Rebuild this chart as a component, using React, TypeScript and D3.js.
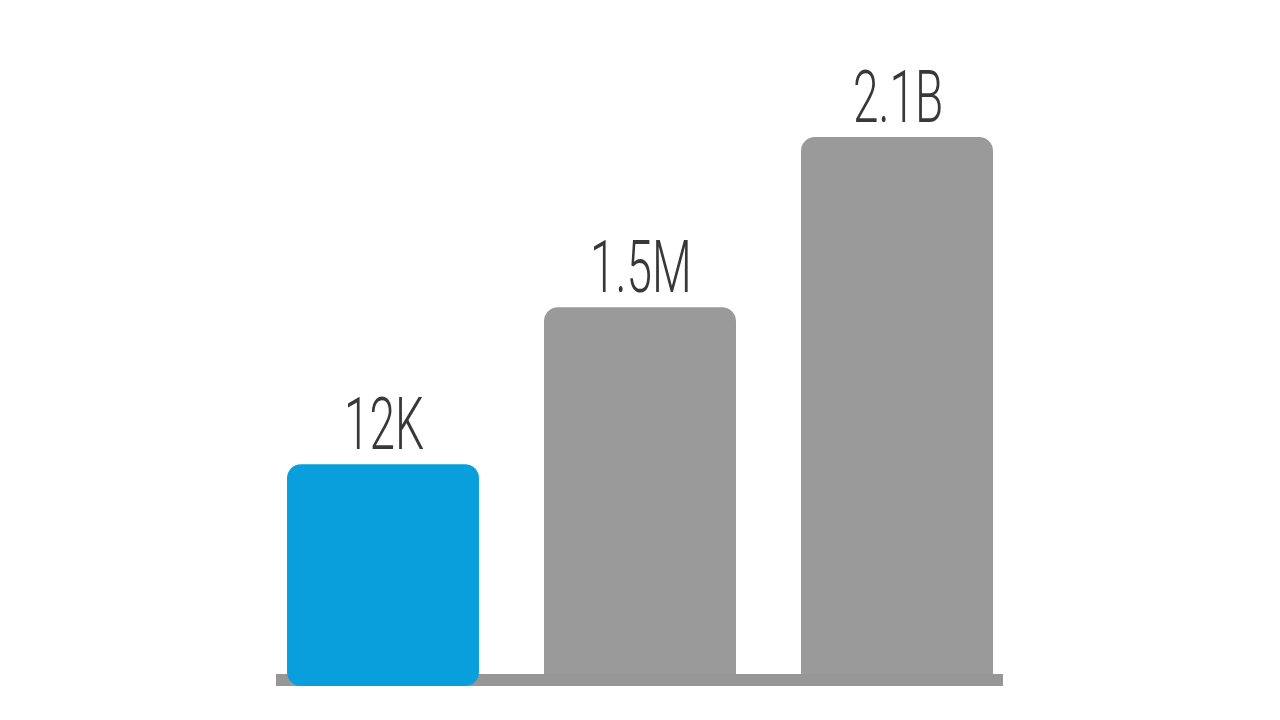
import React from "react";
import * as d3 from "d3";

const categories = ["A", "B", "C"];
const valueLabels = ["12K", "1.5M", "2.1B"];
// relative bar heights as drawn (not proportional to values)
const barLevels = [40.4, 69.0, 100];
const highlight = [true, false, false];

const W = 1280;
const H = 720;

export default function App() {
  const x = d3
    .scaleBand<string>()
    .domain(categories)
    .range([254.5, 1025.5])
    .paddingInner(0.253)
    .paddingOuter(0.1265);
  const baseY = 686;
  const y = d3.scaleLinear().domain([0, 100]).range([baseY, 137]);
  const r = 14;
  const bw = x.bandwidth();

  const topRounded = (x0: number, y0: number, w: number, y1: number) => {
    const p = d3.path();
    p.moveTo(x0, y1);
    p.lineTo(x0, y0 + r);
    p.arcTo(x0, y0, x0 + r, y0, r);
    p.lineTo(x0 + w - r, y0);
    p.arcTo(x0 + w, y0, x0 + w, y0 + r, r);
    p.lineTo(x0 + w, y1);
    p.closePath();
    return p.toString();
  };

  return (
    <svg
      width={W}
      height={H}
      style={{ position: "absolute", left: 0, top: 0, background: "#fff" }}
    >
      {categories.map((c, i) =>
        highlight[i] ? null : (
          <path
            key={c}
            d={topRounded(x(c)!, y(barLevels[i]), bw, baseY - 8)}
            fill="#9a9a9a"
          />
        )
      )}
      <rect x={276} y={674} width={727} height={12} fill="#979797" />
      {categories.map((c, i) =>
        highlight[i] ? (
          <rect
            key={c}
            x={x(c)!}
            y={y(barLevels[i])}
            width={bw}
            height={baseY - y(barLevels[i])}
            rx={r}
            ry={r}
            fill="#099fdd"
          />
        ) : null
      )}
      {categories.map((c, i) => {
        const cx = x(c)! + bw / 2 + 1;
        const ty = y(barLevels[i]) - 15;
        return (
          <text
            key={c}
            transform={`translate(${cx},${ty}) scale(0.63,1)`}
            textAnchor="middle"
            fontFamily="Roboto, 'Open Sans', sans-serif"
            fontWeight={300}
            fontSize={73}
            fill="#383838"
          >
            {valueLabels[i]}
          </text>
        );
      })}
    </svg>
  );
}
